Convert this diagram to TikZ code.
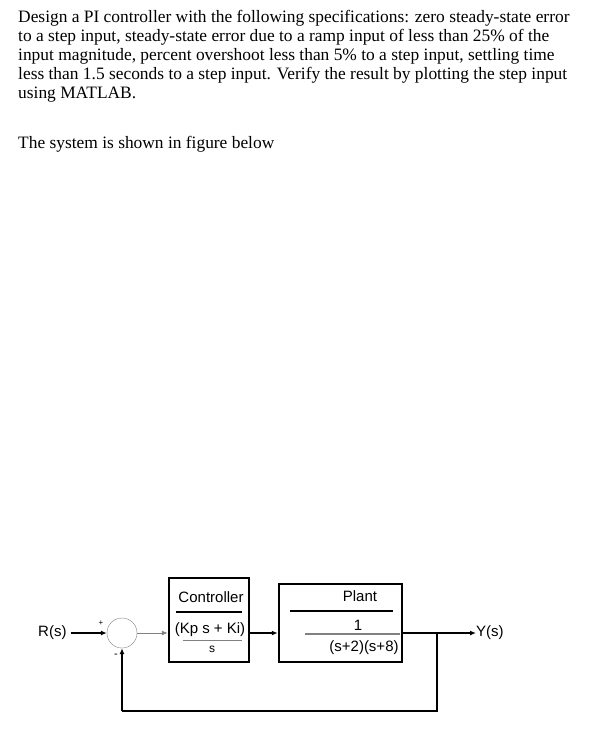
\documentclass[tikz,border=0pt]{standalone}
\usepackage{fontspec}
\setmainfont{Liberation Serif}
\newfontfamily\diagfont{Liberation Sans}
\usetikzlibrary{arrows.meta}
\begin{document}
\begin{tikzpicture}[x=1pt,y=-1pt,
  para/.style={anchor=base west,inner sep=0,font=\fontsize{17.4}{20}\selectfont},
  lbl/.style={inner sep=0,font=\diagfont\fontsize{15}{17}\selectfont},
  blk/.style={draw,line width=2.5pt},
  thick line/.style={line width=2.5pt},
  arr/.style={-{Latex[length=6pt,width=5pt]}}]
\useasboundingbox (0,0) rectangle (605,730);
\node[para] (p1) at (18,23) {Design a PI controller with the following specifications: zero steady-state error};
\node[para] (p2) at (18,42) {to a step input, steady-state error due to a ramp input of less than 25\% of the};
\node[para] (p3) at (18,61) {input magnitude, percent overshoot less than 5\% to a step input, settling time};
\node[para] (p4) at (18,80) {less than 1.5 seconds to a step input. Verify the result by plotting the step input};
\node[para] (p5) at (18,99) {using MATLAB.};
\node[para] (p6) at (18,149) {The system is shown in figure below};

\node[lbl,anchor=west] (R) at (38,633) {R(s)};
\node[circle,draw=gray,minimum size=30pt,inner sep=0] (S) at (122,633) {};
\node[lbl,font=\diagfont\fontsize{8}{8}\selectfont] (plus) at (101,623) {+};
\node[lbl,font=\diagfont\fontsize{11}{8}\selectfont] (minus) at (116,656) {-};
\node[blk,minimum width=80pt,minimum height=84pt] (C) at (209,620) {};
\node[lbl] (Ct) at (211,597) {Controller};
\node[lbl] (Cn) at (210,630) {(Kp s + Ki)};
\node[lbl,font=\diagfont\fontsize{12}{12}\selectfont] (Cd) at (212,649) {s};
\node[blk,minimum width=123pt,minimum height=78pt] (P) at (340.5,623) {};
\node[lbl] (Pt) at (360,596) {Plant};
\node[lbl] (Pn) at (358,625) {1};
\node[lbl] (Pd) at (364,648) {(s+2)(s+8)};
\node[lbl,anchor=west] (Y) at (476,633) {Y(s)};
\coordinate (B) at (437,633);
\coordinate (B2) at (437,711);
\coordinate (B3) at (122,711);

\draw[thick line] (176,612) -- (242,612);
\draw[gray,line width=1pt] (183,640) -- (242,640);
\draw[thick line] (290,611) -- (393,611);
\draw[gray,line width=1.5pt] (305,634) -- (400,634);

\draw[thick line,arr] (R.east) ++(4,0) -- (S.west);
\draw[gray,line width=1pt,arr] (S.east) -- (C.west |- S.east);
\draw[thick line,arr] (C.east |- S.east) -- (P.west |- S.east);
\draw[thick line] (P.east |- S.east) -- (B);
\draw[line width=1.2pt,arr] (B) -- (Y.west);
\draw[thick line] (B) -- (B2) -- (B3);
\draw[thick line,arr] (B3) -- (S.south);
\end{tikzpicture}
\end{document}
